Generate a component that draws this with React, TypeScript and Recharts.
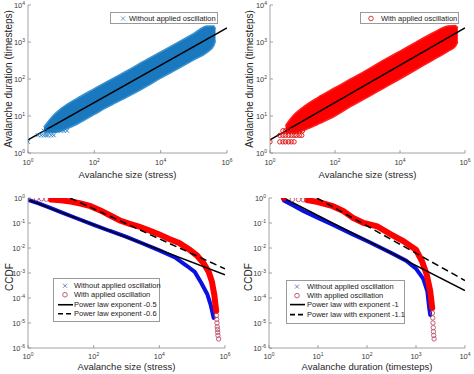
import React from 'react';
import { ComposedChart, XAxis, YAxis, Area, Line, Scatter, Legend } from 'recharts';

// ---------------- tick values ----------------
const sizeTicks = [1, 100, 10000, 1000000];
const durationTicks = [1, 10, 100, 1000, 10000];
const ccdfTicks = [0.000001, 0.00001, 0.0001, 0.001, 0.01, 0.1, 1];

// ---------------- top-left: size vs duration, without oscillation (cloud envelope) ----------------
const cloudNoSize = [3, 5, 10, 30, 100, 300, 1000, 3000, 10000, 30000, 100000, 250000, 400000, 450000];
const cloudNoLow = [3.5, 3.5, 4, 6, 11, 19, 33, 56, 105, 180, 330, 520, 800, 1100];
const cloudNoHigh = [5, 9, 16, 30, 55, 95, 170, 300, 540, 930, 1700, 2700, 2700, 2200];
const streakNoSize = [1, 2, 2.5, 3, 3.5, 4, 5, 6, 3, 4, 5, 6, 7, 8, 10, 12, 15];
const streakNoDur = [2, 3, 3, 3, 3, 3, 3, 3, 4, 4, 4, 4, 4, 4, 4, 4, 4];

// ---------------- top-right: size vs duration, with oscillation ----------------
const cloudOscSize = [3, 5, 10, 30, 100, 300, 1000, 3000, 10000, 30000, 100000, 300000, 500000, 600000];
const cloudOscLow = [3.5, 3.5, 4, 6, 10, 18, 32, 55, 100, 175, 320, 560, 750, 1000];
const cloudOscHigh = [5.5, 10, 17, 32, 58, 100, 180, 320, 570, 980, 1750, 2700, 2800, 2400];
const streakOscSize = [1, 2, 2.5, 3, 3.7, 4.5, 5.5, 2, 2.5, 3, 3.7, 4.5, 5.5, 6.5, 8, 9.5, 2.5, 3, 4, 5, 6.5, 8, 10];
const streakOscDur = [2, 2, 2, 2, 2, 2, 2, 3, 3, 3, 3, 3, 3, 3, 3, 3, 4, 4, 4, 4, 4, 4, 4];

// fitted power laws (top)
const fitSize = [1, 1000000];
const fitDur = [2.25, 2400];

// ---------------- bottom-left: CCDF of size ----------------
const ccdfSizeNoX = [1, 2, 5, 10, 30, 100, 300, 1000, 3000, 10000, 30000, 70000, 120000, 190000, 290000, 370000, 450000];
const ccdfSizeNoY = [0.85, 0.62, 0.39, 0.27, 0.155, 0.085, 0.049, 0.028, 0.0155, 0.008, 0.0042, 0.0019, 0.0011, 0.0004, 0.00014, 0.00005, 0.000016];
const ccdfSizeOscX = [5, 10, 20, 40, 80, 160, 320, 630, 1260, 2500, 5000, 10000, 20000, 40000, 80000, 140000, 220000, 320000, 400000, 470000, 540000];
const ccdfSizeOscY = [0.87, 0.81, 0.72, 0.6, 0.47, 0.32, 0.2, 0.126, 0.093, 0.071, 0.05, 0.035, 0.023, 0.016, 0.0089, 0.005, 0.0025, 0.0011, 0.00045, 0.00014, 0.00003];
const ccdfSizeOscMarkX = [1, 1.8, 2.6, 3.6, 550000, 560000, 570000, 580000, 590000, 600000, 610000, 640000];
const ccdfSizeOscMarkY = [1, 0.96, 0.93, 0.9, 0.00002, 0.000014, 0.00001, 0.000007, 0.0000055, 0.0000042, 0.0000032, 0.0000023];
const lawSizeSolidX = [1, 1000000];
const lawSizeSolidY = [0.85, 0.00085];
const lawSizeDashX = [19, 1000000];
const lawSizeDashY = [1, 0.00147];

// ---------------- bottom-right: CCDF of duration ----------------
const ccdfDurNoX = [2, 3, 5, 10, 20, 50, 100, 300, 630, 1000, 1400, 1700, 1860, 1950];
const ccdfDurNoY = [0.8, 0.52, 0.3, 0.16, 0.085, 0.036, 0.019, 0.0066, 0.0031, 0.0015, 0.0006, 0.00019, 0.00004, 0.000021];
const ccdfDurOscX = [6, 10, 20, 33, 52, 85, 160, 300, 550, 1000, 1320, 1660, 1950, 2140];
const ccdfDurOscY = [0.82, 0.69, 0.47, 0.3, 0.16, 0.1, 0.074, 0.036, 0.019, 0.0085, 0.003, 0.00085, 0.00019, 0.00004];
const ccdfDurOscMarkX = [3, 4, 5, 2170, 2200, 2220, 2250, 2270, 2300, 2340];
const ccdfDurOscMarkY = [0.88, 0.87, 0.85, 0.000025, 0.000016, 0.00001, 0.0000065, 0.0000045, 0.0000032, 0.0000023];
const ccdfDurOscFirstX = [2];
const ccdfDurOscFirstY = [1];
const lawDurSolidX = [2, 10000];
const lawDurSolidY = [1, 0.0002];
const lawDurDashX = [9.5, 10000];
const lawDurDashY = [1, 0.0005];

// ---------------- helpers ----------------
const pts = (xs: number[], ys: number[]) => xs.map((x, i) => ({ x, y: ys[i] }));
const band = (xs: number[], lo: number[], hi: number[]) => xs.map((x, i) => ({ x, band: [lo[i], hi[i]] }));

const FONT = "'Liberation Sans', Arial, Helvetica, sans-serif";
const AXIS = '#8a8a8a';
const TXT = '#3a3a3a';
const BLUE_CLOUD = '#1a78bf';
const BLUE = '#0a10e0';
const RED = '#ff0000';

const expOf = (v: number) => Math.round(Math.log10(v));

const makeXTick = (dy: number) => (p: any) => {
  const { x, y, payload } = p;
  return (
    <g>
      <line x1={x} x2={x} y1={y} y2={y - 3} stroke={AXIS} strokeWidth={0.8} />
      <text x={x} y={y + dy} textAnchor="middle" fontSize={7.5} fill={TXT} fontFamily={FONT}>
        10<tspan dy={-3.5} fontSize={5}>{expOf(payload.value)}</tspan>
      </text>
    </g>
  );
};
const YTick = (p: any) => {
  const { x, y, payload } = p;
  return (
    <g>
      <line x1={x} x2={x + 3} y1={y} y2={y} stroke={AXIS} strokeWidth={0.8} />
      <text x={x - 3} y={y + 3} textAnchor="end" fontSize={7.5} fill={TXT} fontFamily={FONT}>
        10<tspan dy={-3.5} fontSize={5}>{expOf(payload.value)}</tspan>
      </text>
    </g>
  );
};
const TopTick = (p: any) => <line x1={p.x} x2={p.x} y1={p.y} y2={p.y + 3} stroke={AXIS} strokeWidth={0.8} />;
const RightTick = (p: any) => <line x1={p.x} x2={p.x - 3} y1={p.y} y2={p.y} stroke={AXIS} strokeWidth={0.8} />;

function AxisTitle(props: any) {
  const { tx, ty, text, vertical, size } = props;
  return (
    <text x={tx} y={ty} textAnchor="middle" fontSize={size} fill="#262626" fontFamily={FONT}
      transform={vertical ? `rotate(-90 ${tx} ${ty})` : undefined}>{text}</text>
  );
}

const XMark = (color: string, s = 2) => (p: any) => {
  const { cx, cy } = p;
  if (cx == null || cy == null) return <g />;
  return <path d={`M${cx - s},${cy - s}L${cx + s},${cy + s}M${cx - s},${cy + s}L${cx + s},${cy - s}`} stroke={color} strokeWidth={0.9} fill="none" />;
};
const OMark = (color: string, r = 2.2, filled = false) => (p: any) => {
  const { cx, cy } = p;
  if (cx == null || cy == null) return <g />;
  return <circle cx={cx} cy={cy} r={r} fill={filled ? color : 'none'} stroke={color} strokeWidth={0.9} />;
};

type Item = { kind: 'x' | 'o' | 'solid' | 'dash'; color: string; label: string };
function LegendBox({ items, width, rowH, padTop, padBottom, markCx, textX }: any) {
  return (
    <div style={{ width, boxSizing: 'border-box', border: '1px solid #9a9a9a', background: '#fff', paddingTop: padTop, paddingBottom: padBottom, fontFamily: FONT }}>
      {items.map((it: Item, i: number) => (
        <div key={i} style={{ position: 'relative', height: rowH }}>
          <svg width={textX} height={rowH} style={{ position: 'absolute', left: 0, top: 0 }}>
            {it.kind === 'x' && (
              <path d={`M${markCx - 2},${rowH / 2 - 2}L${markCx + 2},${rowH / 2 + 2}M${markCx - 2},${rowH / 2 + 2}L${markCx + 2},${rowH / 2 - 2}`} stroke={it.color} strokeWidth={0.9} />
            )}
            {it.kind === 'o' && <circle cx={markCx} cy={rowH / 2} r={2.3} fill="none" stroke={it.color} strokeWidth={0.9} />}
            {it.kind === 'solid' && <line x1={markCx - 7} x2={markCx + 8} y1={rowH / 2} y2={rowH / 2} stroke={it.color} strokeWidth={1.6} />}
            {it.kind === 'dash' && <line x1={markCx - 7} x2={markCx + 8} y1={rowH / 2} y2={rowH / 2} stroke={it.color} strokeWidth={1.6} strokeDasharray="5 3" />}
          </svg>
          <span style={{ position: 'absolute', left: textX, top: 0, fontSize: 7.5, lineHeight: `${rowH}px`, whiteSpace: 'nowrap', color: '#1a1a1a' }}>{it.label}</span>
        </div>
      ))}
    </div>
  );
}

function boxAxes(o: { xDomain: number[]; xTicks: number[]; yDomain: number[]; yTicks: number[]; yWidth: number; xHeight: number; tickDy: number; xTitle: any; yTitle: any }) {
  return [
    <XAxis key="xb" dataKey="x" type="number" scale="log" domain={o.xDomain} ticks={o.xTicks} allowDataOverflow interval={0}
      height={o.xHeight} tickSize={0} tickMargin={0} tick={makeXTick(o.tickDy)} tickLine={false} axisLine={{ stroke: AXIS, strokeWidth: 0.8 }} label={o.xTitle} />,
    <XAxis key="xt" xAxisId="top" orientation="top" type="number" scale="log" domain={o.xDomain} ticks={o.xTicks} allowDataOverflow interval={0}
      height={0} tickSize={0} tickMargin={0} tick={TopTick} tickLine={false} axisLine={{ stroke: AXIS, strokeWidth: 0.8 }} />,
    <YAxis key="yl" type="number" scale="log" domain={o.yDomain} ticks={o.yTicks} allowDataOverflow interval={0}
      width={o.yWidth} tickSize={0} tickMargin={0} tick={YTick} tickLine={false} axisLine={{ stroke: AXIS, strokeWidth: 0.8 }} label={o.yTitle} />,
    <YAxis key="yr" yAxisId="right" orientation="right" type="number" scale="log" domain={o.yDomain} ticks={o.yTicks} allowDataOverflow interval={0}
      width={0} tickSize={0} tickMargin={0} tick={RightTick} tickLine={false} axisLine={{ stroke: AXIS, strokeWidth: 0.8 }} />,
  ];
}

export default function App() {
  const cloudNo = band(cloudNoSize, cloudNoLow, cloudNoHigh);
  const cloudOsc = band(cloudOscSize, cloudOscLow, cloudOscHigh);
  const fit = pts(fitSize, fitDur);

  return (
    <div style={{ position: 'absolute', left: 0, top: 0, width: 474, height: 374, background: '#fff', overflow: 'hidden' }}>
      {/* top-left */}
      <div style={{ position: 'absolute', left: 0, top: 0 }}>
        <ComposedChart width={237} height={185} data={cloudNo} margin={{ top: 5, right: 10, bottom: 0, left: 0 }}>
          {boxAxes({
            xDomain: [1, 1000000], xTicks: sizeTicks, yDomain: [1, 10000], yTicks: durationTicks, yWidth: 28, xHeight: 32, tickDy: 12,
            xTitle: <AxisTitle tx={127.5} ty={178} size={9.5} text="Avalanche size (stress)" />,
            yTitle: <AxisTitle tx={12} ty={79} size={10} vertical text="Avalanche duration (timesteps)" />,
          })}
          <Area dataKey="band" type="monotone" fill={BLUE_CLOUD} fillOpacity={1} stroke="#3b93d0" strokeWidth={1.5} isAnimationActive={false} />
          <Scatter data={pts(streakNoSize, streakNoDur)} dataKey="y" shape={XMark('#1f7cc2')} isAnimationActive={false} />
          <Line data={fit} dataKey="y" stroke="#000" strokeWidth={1.5} dot={false} isAnimationActive={false} />
          <Legend layout="vertical" align="center" verticalAlign="middle" wrapperStyle={{ left: 110, top: 12, width: 108 }}
            content={() => <LegendBox width={108} rowH={9} padTop={1} padBottom={0} markCx={12} textX={18}
              items={[{ kind: 'x', color: '#5c95c4', label: 'Without applied oscillation' }]} />} />
        </ComposedChart>
      </div>

      {/* top-right */}
      <div style={{ position: 'absolute', left: 237, top: 0 }}>
        <ComposedChart width={237} height={185} data={cloudOsc} margin={{ top: 5, right: 9, bottom: 0, left: 0 }}>
          {boxAxes({
            xDomain: [1, 1000000], xTicks: sizeTicks, yDomain: [1, 10000], yTicks: durationTicks, yWidth: 33, xHeight: 32, tickDy: 12,
            xTitle: <AxisTitle tx={130.5} ty={178} size={9.5} text="Avalanche size (stress)" />,
            yTitle: <AxisTitle tx={16} ty={79} size={10} vertical text="Avalanche duration (timesteps)" />,
          })}
          <Area dataKey="band" type="monotone" fill={RED} fillOpacity={1} stroke="#ff2020" strokeWidth={1.5} isAnimationActive={false} />
          <Scatter data={pts(streakOscSize, streakOscDur)} dataKey="y" shape={OMark('#e01010')} isAnimationActive={false} />
          <Line data={fit} dataKey="y" stroke="#000" strokeWidth={1.5} dot={false} isAnimationActive={false} />
          <Legend layout="vertical" align="center" verticalAlign="middle" wrapperStyle={{ left: 123, top: 12, width: 99 }}
            content={() => <LegendBox width={99} rowH={9} padTop={1} padBottom={0} markCx={10} textX={20}
              items={[{ kind: 'o', color: '#d03030', label: 'With applied oscillation' }]} />} />
        </ComposedChart>
      </div>

      {/* bottom-left */}
      <div style={{ position: 'absolute', left: 0, top: 185 }}>
        <ComposedChart width={237} height={189} margin={{ top: 13, right: 12, bottom: 0, left: 0 }}>
          {boxAxes({
            xDomain: [1, 1000000], xTicks: sizeTicks, yDomain: [0.000001, 1], yTicks: ccdfTicks, yWidth: 28, xHeight: 26, tickDy: 11,
            xTitle: <AxisTitle tx={126.5} ty={185} size={9.5} text="Avalanche size (stress)" />,
            yTitle: <AxisTitle tx={13} ty={92} size={10} vertical text="CCDF" />,
          })}
          <Line data={pts(ccdfSizeNoX, ccdfSizeNoY)} dataKey="y" stroke={BLUE} strokeWidth={4} strokeLinecap="round" dot={false} isAnimationActive={false} />
          <Line data={pts(ccdfSizeOscX, ccdfSizeOscY)} dataKey="y" stroke={RED} strokeWidth={6} strokeLinecap="round" dot={false} isAnimationActive={false} />
          <Scatter data={pts(ccdfSizeOscMarkX, ccdfSizeOscMarkY)} dataKey="y" shape={OMark('#c0506a', 2.2)} isAnimationActive={false} />
          <Line data={pts(lawSizeSolidX, lawSizeSolidY)} dataKey="y" stroke="#000" strokeWidth={1.5} dot={false} isAnimationActive={false} />
          <Line data={pts(lawSizeDashX, lawSizeDashY)} dataKey="y" stroke="#000" strokeWidth={1.5} strokeDasharray="7 4" dot={false} isAnimationActive={false} />
          <Legend layout="vertical" align="center" verticalAlign="middle" wrapperStyle={{ left: 53, top: 93, width: 107 }}
            content={() => <LegendBox width={107} rowH={9.5} padTop={1.5} padBottom={2} markCx={11} textX={20}
              items={[
                { kind: 'x', color: '#6b6fa8', label: 'Without applied oscillation' },
                { kind: 'o', color: '#b05060', label: 'With applied oscillation' },
                { kind: 'solid', color: '#000', label: 'Power law exponent -0.5' },
                { kind: 'dash', color: '#000', label: 'Power law exponent -0.6' },
              ]} />} />
        </ComposedChart>
      </div>

      {/* bottom-right */}
      <div style={{ position: 'absolute', left: 237, top: 185 }}>
        <ComposedChart width={237} height={189} margin={{ top: 13, right: 9, bottom: 0, left: 0 }}>
          {boxAxes({
            xDomain: [1, 10000], xTicks: durationTicks, yDomain: [0.000001, 1], yTicks: ccdfTicks, yWidth: 32, xHeight: 26, tickDy: 11,
            xTitle: <AxisTitle tx={130} ty={185} size={9.5} text="Avalanche duration (timesteps)" />,
            yTitle: <AxisTitle tx={15} ty={92} size={10} vertical text="CCDF" />,
          })}
          <Line data={pts(ccdfDurNoX, ccdfDurNoY)} dataKey="y" stroke={BLUE} strokeWidth={4} strokeLinecap="round" dot={false} isAnimationActive={false} />
          <Line data={pts(ccdfDurOscX, ccdfDurOscY)} dataKey="y" stroke={RED} strokeWidth={6} strokeLinecap="round" dot={false} isAnimationActive={false} />
          <Scatter data={pts(ccdfDurOscMarkX, ccdfDurOscMarkY)} dataKey="y" shape={OMark('#c0506a', 2.2)} isAnimationActive={false} />
          <Scatter data={pts(ccdfDurOscFirstX, ccdfDurOscFirstY)} dataKey="y" shape={OMark('#e00000', 2.6, true)} isAnimationActive={false} />
          <Line data={pts(lawDurSolidX, lawDurSolidY)} dataKey="y" stroke="#000" strokeWidth={1.5} dot={false} isAnimationActive={false} />
          <Line data={pts(lawDurDashX, lawDurDashY)} dataKey="y" stroke="#000" strokeWidth={1.5} strokeDasharray="7 4" dot={false} isAnimationActive={false} />
          <Legend layout="vertical" align="center" verticalAlign="middle" wrapperStyle={{ left: 49, top: 95, width: 119 }}
            content={() => <LegendBox width={119} rowH={9.2} padTop={1} padBottom={4} markCx={10} textX={20}
              items={[
                { kind: 'x', color: '#6b6fa8', label: 'Without applied oscillation' },
                { kind: 'o', color: '#b05060', label: 'With applied oscillation' },
                { kind: 'solid', color: '#000', label: 'Power law with exponent -1' },
                { kind: 'dash', color: '#000', label: 'Power law with exponent -1.1' },
              ]} />} />
        </ComposedChart>
      </div>
    </div>
  );
}
